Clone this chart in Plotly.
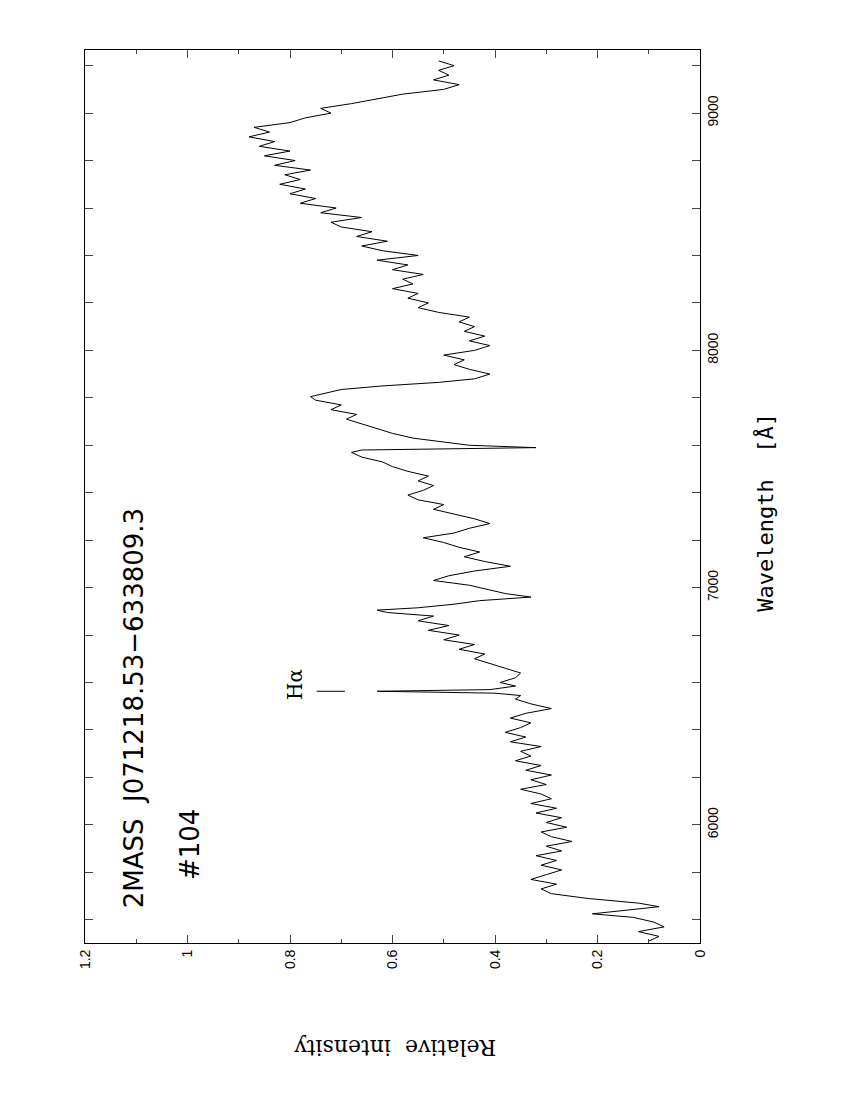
import plotly.graph_objects as go

wavelength = [5510,5530,5550,5570,5590,5610,5625,5640,5655,5670,5690,5710,5730,5750,5770,5790,5810,5830,5850,5870,5890,5910,5930,5950,5970,5990,6010,6030,6050,6070,6090,6110,6130,6150,6170,6190,6210,6230,6250,6270,6290,6310,6330,6350,6370,6390,6410,6430,6450,6470,6490,6510,6530,6545,6555,6563,6570,6585,6600,6620,6640,6660,6680,6700,6720,6740,6760,6780,6800,6820,6840,6860,6880,6895,6905,6915,6930,6945,6960,6975,6990,7010,7030,7050,7070,7090,7110,7130,7150,7170,7190,7210,7230,7250,7270,7290,7310,7330,7350,7370,7390,7410,7430,7450,7470,7490,7510,7530,7550,7570,7580,7590,7600,7615,7630,7650,7670,7690,7710,7730,7750,7770,7790,7805,7820,7835,7850,7865,7880,7900,7920,7940,7960,7980,8000,8020,8040,8060,8080,8100,8120,8140,8160,8180,8200,8220,8240,8260,8280,8300,8320,8340,8360,8380,8400,8420,8440,8460,8480,8500,8520,8540,8560,8580,8600,8620,8640,8660,8680,8700,8720,8740,8760,8780,8800,8820,8840,8860,8880,8900,8920,8940,8960,8980,9000,9020,9040,9060,9080,9100,9120,9140,9160,9180,9200,9220,9240,9260]
intensity = [0.10,0.08,0.12,0.07,0.09,0.13,0.21,0.15,0.08,0.12,0.22,0.29,0.31,0.28,0.33,0.30,0.27,0.31,0.28,0.32,0.27,0.30,0.25,0.29,0.31,0.26,0.30,0.27,0.32,0.28,0.33,0.29,0.31,0.35,0.30,0.33,0.29,0.34,0.31,0.36,0.33,0.35,0.31,0.37,0.34,0.38,0.35,0.33,0.37,0.34,0.29,0.33,0.36,0.35,0.40,0.63,0.41,0.36,0.39,0.36,0.35,0.38,0.41,0.44,0.42,0.47,0.44,0.50,0.47,0.53,0.49,0.55,0.52,0.61,0.63,0.55,0.48,0.43,0.33,0.38,0.41,0.45,0.52,0.49,0.44,0.37,0.42,0.46,0.43,0.47,0.50,0.54,0.48,0.45,0.41,0.44,0.48,0.52,0.50,0.55,0.57,0.54,0.52,0.55,0.53,0.57,0.60,0.62,0.66,0.68,0.66,0.32,0.45,0.51,0.56,0.60,0.63,0.66,0.69,0.67,0.72,0.70,0.75,0.76,0.73,0.70,0.62,0.51,0.44,0.41,0.45,0.48,0.46,0.50,0.44,0.41,0.45,0.42,0.46,0.44,0.47,0.45,0.51,0.55,0.53,0.57,0.55,0.60,0.56,0.58,0.54,0.60,0.57,0.63,0.55,0.62,0.66,0.61,0.67,0.64,0.70,0.72,0.66,0.74,0.71,0.78,0.75,0.80,0.77,0.82,0.78,0.81,0.76,0.83,0.79,0.85,0.80,0.86,0.83,0.88,0.84,0.87,0.80,0.77,0.72,0.74,0.68,0.63,0.58,0.50,0.47,0.52,0.49,0.51,0.48,0.51]

label_font = dict(family="Liberation Sans", size=14, color="black")
big_font = dict(family="DejaVu Sans", size=26, color="black")

fig = go.Figure(go.Scatter(x=intensity, y=wavelength, mode="lines",
                           line=dict(color="black", width=1), showlegend=False))

fig.add_shape(type="line", x0=0.693, x1=0.748, y0=6563, y1=6563,
              line=dict(color="black", width=1))
fig.add_annotation(x=0.79, y=6590, text="Hα", showarrow=False, textangle=-90,
                   font=dict(family="DejaVu Serif", size=20, color="black"))
fig.add_annotation(x=1.105, y=6490, text="2MASS  J071218.53−633809.3", showarrow=False,
                   textangle=-90, font=big_font)
fig.add_annotation(x=0.995, y=5915, text="#104", showarrow=False, textangle=-90, font=big_font)
fig.add_annotation(xref="paper", yref="paper", x=1.13, y=0.483, text="Wavelength  [Å]",
                   showarrow=False, textangle=-90,
                   font=dict(family="DejaVu Sans Mono", size=22, color="black"))
fig.add_annotation(xref="paper", yref="paper", x=0.505, y=-0.133, text="Relative  intensity",
                   showarrow=False, textangle=180,
                   font=dict(family="DejaVu Serif", size=22, color="black"))

fig.update_layout(
    width=850, height=1100, plot_bgcolor="white", paper_bgcolor="white",
    margin=dict(l=77, r=158, t=42, b=165),
    xaxis=dict(range=[1.2, 0], tickvals=[0, 0.2, 0.4, 0.6, 0.8, 1, 1.2],
               ticktext=["0", "0.2", "0.4", "0.6", "0.8", "1", "1.2"], tickangle=-90,
               ticks="inside", ticklen=8, mirror="ticks", showline=True, linecolor="black",
               linewidth=1, showgrid=False, zeroline=False, tickfont=label_font,
               minor=dict(dtick=0.1, ticks="inside", ticklen=4)),
    yaxis=dict(range=[5502, 9266], side="right", tickvals=[6000, 7000, 8000, 9000],
               tickangle=-90, ticks="inside", ticklen=8, mirror="ticks", showline=True,
               linecolor="black", linewidth=1, showgrid=False, zeroline=False,
               tickfont=label_font,
               minor=dict(tick0=5000, dtick=200, ticks="inside", ticklen=8)),
)
fig.write_html("out.html")
